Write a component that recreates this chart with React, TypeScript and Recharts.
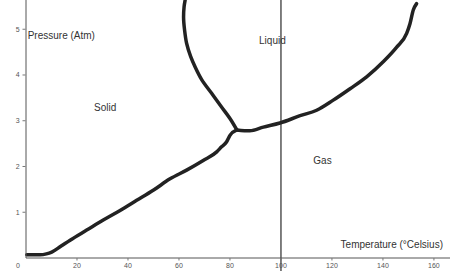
import React from "react"
import { ComposedChart, Line, XAxis, YAxis, ReferenceLine, ReferenceDot } from "recharts"

// phase boundaries: t = temperature (°C), p = pressure (atm)
const sublimationT = [0.3, 3, 5.5, 8, 10.1, 13.5, 17.3, 23.8, 30.3, 36.9, 43.4, 49.9, 56.5, 63.0, 69.5, 74.8, 76.7, 78.7, 80.0, 82.7]
const sublimationP = [0.07, 0.07, 0.07, 0.09, 0.13, 0.25, 0.39, 0.61, 0.83, 1.04, 1.26, 1.48, 1.73, 1.92, 2.13, 2.32, 2.43, 2.54, 2.68, 2.8]

const meltingT = [82.7, 80.0, 76.7, 72.8, 68.9, 66.3, 64.6, 63.0, 62.2, 61.8, 62.0, 62.4]
const meltingP = [2.8, 3.05, 3.3, 3.6, 3.9, 4.18, 4.4, 4.69, 4.98, 5.27, 5.49, 5.63]

const vaporT = [82.7, 87.8, 93.1, 99.6, 107.5, 114.0, 120.5, 127.1, 133.6, 140.1, 145.4, 149.3, 150.6, 151.9, 153.2]
const vaporP = [2.8, 2.78, 2.86, 2.95, 3.11, 3.23, 3.45, 3.7, 3.96, 4.29, 4.61, 4.91, 5.12, 5.42, 5.56]

const boilingT = 100

const xTicks = [0, 20, 40, 60, 80, 100, 120, 140, 160]
const yTicks = [1, 2, 3, 4, 5]

const toPoints = (t: number[], p: number[]) => t.map((v, i) => ({ t: v, p: p[i] }))

const sublimation = toPoints(sublimationT, sublimationP)
const melting = toPoints(meltingT, meltingP)
const vapor = toPoints(vaporT, vaporP)

const FONT = "'Liberation Sans', Arial, sans-serif"
const CURVE = "#222"

const XTick = (props: any) => {
  const { x, y, payload } = props
  const isZero = payload.value === 0
  return (
    <g>
      {!isZero && <line x1={x} x2={x} y1={y} y2={y + 2.5} stroke="#777" strokeWidth={1} />}
      <text
        x={isZero ? x - 8 : x}
        y={y + 7}
        textAnchor="middle"
        dominantBaseline="central"
        fontFamily={FONT}
        fontSize={7}
        fill="#555"
      >
        {payload.value}
      </text>
    </g>
  )
}

const YTick = (props: any) => {
  const { x, y, payload } = props
  return (
    <g>
      <line x1={x - 3.5} x2={x - 0.5} y1={y} y2={y} stroke="#777" strokeWidth={1} />
      <text x={x - 8.2} y={y} textAnchor="middle" dominantBaseline="central" fontFamily={FONT} fontSize={7} fill="#555">
        {payload.value}
      </text>
    </g>
  )
}

const textLabel = (text: string) => ({
  content: (p: any) => (
    <text
      x={p.viewBox.x}
      y={p.viewBox.y}
      textAnchor="start"
      dominantBaseline="central"
      fontFamily={FONT}
      fontSize={10}
      fill="#333"
    >
      {text}
    </text>
  ),
})

export default function App() {
  return (
    <div style={{ width: 450, height: 271, background: "#fff" }}>
      <style>{"body{margin:0}"}</style>
      <ComposedChart width={450} height={271} margin={{ top: 0, right: 0, bottom: 0, left: 0 }}>
        <XAxis
          dataKey="t"
          type="number"
          domain={[0, 166.3]}
          ticks={xTicks}
          height={13}
          tickSize={0}
          tickMargin={0}
          tickLine={false}
          axisLine={{ stroke: "#555", strokeWidth: 1 }}
          tick={<XTick />}
          interval={0}
        />
        <YAxis
          dataKey="p"
          type="number"
          domain={[0, 5.639]}
          ticks={yTicks}
          width={26}
          tickSize={0}
          tickMargin={0}
          tickLine={false}
          axisLine={{ stroke: "#555", strokeWidth: 1 }}
          tick={<YTick />}
          interval={0}
        />
        <ReferenceLine
          segment={[
            { x: boilingT, y: -0.4 },
            { x: boilingT, y: 5.8 },
          ]}
          ifOverflow="visible"
          stroke="#555"
          strokeWidth={1.5}
        />
        <Line data={sublimation} dataKey="p" type="monotoneX" stroke={CURVE} strokeWidth={3.5} strokeLinejoin="round" strokeLinecap="round" dot={false} activeDot={false} isAnimationActive={false} />
        <Line data={melting} dataKey="p" type="monotoneY" stroke={CURVE} strokeWidth={3.5} strokeLinejoin="round" strokeLinecap="round" dot={false} activeDot={false} isAnimationActive={false} />
        <Line data={vapor} dataKey="p" type="monotoneX" stroke={CURVE} strokeWidth={3.5} strokeLinejoin="round" strokeLinecap="round" dot={false} activeDot={false} isAnimationActive={false} />
        <ReferenceDot x={0.67} y={4.853} r={0} fill="none" stroke="none" ifOverflow="visible" label={textLabel("Pressure (Atm)")} />
        <ReferenceDot x={91.4} y={4.744} r={0} fill="none" stroke="none" ifOverflow="visible" label={textLabel("Liquid")} />
        <ReferenceDot x={26.7} y={3.28} r={0} fill="none" stroke="none" ifOverflow="visible" label={textLabel("Solid")} />
        <ReferenceDot x={112.7} y={2.137} r={0} fill="none" stroke="none" ifOverflow="visible" label={textLabel("Gas")} />
        <ReferenceDot x={123.4} y={0.3} r={0} fill="none" stroke="none" ifOverflow="visible" label={textLabel("Temperature (°Celsius)")} />
      </ComposedChart>
    </div>
  )
}
